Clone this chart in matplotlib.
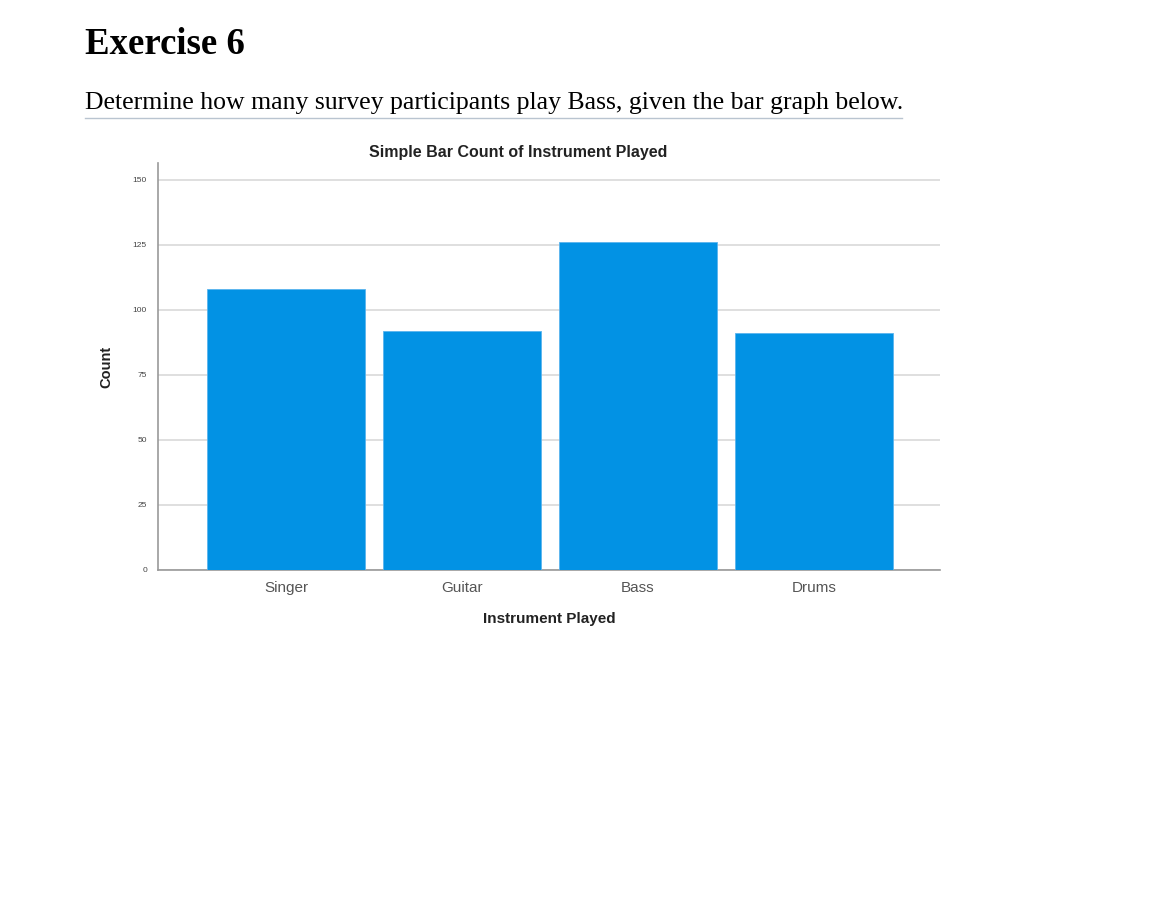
import matplotlib.pyplot as plt
from matplotlib.lines import Line2D

instruments = ["Singer", "Guitar", "Bass", "Drums"]
counts = [108, 92, 126, 91]
y_ticks = [0, 25, 50, 75, 100, 125, 150]

bar_color = "#0292E4"

fig = plt.figure(figsize=(11.49, 8.98), dpi=100)
fig.patch.set_facecolor("white")

# page text above the chart
fig.text(85 / 1149, 1 - 44 / 898, "Exercise 6", family="Liberation Serif",
         fontweight="bold", fontsize=26.5, va="center", ha="left")
fig.text(85 / 1149, 1 - 103 / 898,
         "Determine how many survey participants play Bass, given the bar graph below.",
         family="Liberation Serif", fontsize=18.5, va="center", ha="left")
fig.add_artist(Line2D([85 / 1149, 902 / 1149], [1 - 117.5 / 898, 1 - 117.5 / 898],
                      transform=fig.transFigure, color="#B9C4D0", lw=1))

ax = fig.add_axes([158 / 1149, 1 - 570 / 898, (940 - 158) / 1149, (570 - 163) / 898])
x = range(len(instruments))
ax.bar(x, counts, width=0.9, color=bar_color, edgecolor="#5AB4EE", linewidth=0.6, zorder=3)

ax.set_xlim(-0.727, 3.716)
ax.set_ylim(0, 156.5)
ax.set_yticks(y_ticks)
ax.set_yticklabels([str(v) for v in y_ticks], fontsize=6, color="#444444",
                   family="Liberation Sans")
ax.set_xticks(list(x))
ax.set_xticklabels(instruments, fontsize=11, color="#555555", family="Liberation Sans")
ax.tick_params(axis="both", length=0)
ax.tick_params(axis="y", pad=8)
ax.tick_params(axis="x", pad=8)
ax.yaxis.grid(True, color="#D9D9D9", lw=1.2, zorder=0)
ax.set_axisbelow(True)

for side in ["top", "right"]:
    ax.spines[side].set_visible(False)
for side in ["left", "bottom"]:
    ax.spines[side].set_color("#999999")
    ax.spines[side].set_linewidth(1.2)

ax.set_ylabel("Count", fontsize=10.5, fontweight="bold", family="Liberation Sans",
              color="#222222", labelpad=14)
ax.set_xlabel("Instrument Played", fontsize=11, fontweight="bold", family="Liberation Sans",
              color="#222222", labelpad=12)

fig.text(518 / 1149, 1 - 152 / 898, "Simple Bar Count of Instrument Played",
         fontsize=11.5, fontweight="bold", family="Liberation Sans", color="#222222",
         ha="center", va="center")

fig.savefig("out.png", dpi=100)
